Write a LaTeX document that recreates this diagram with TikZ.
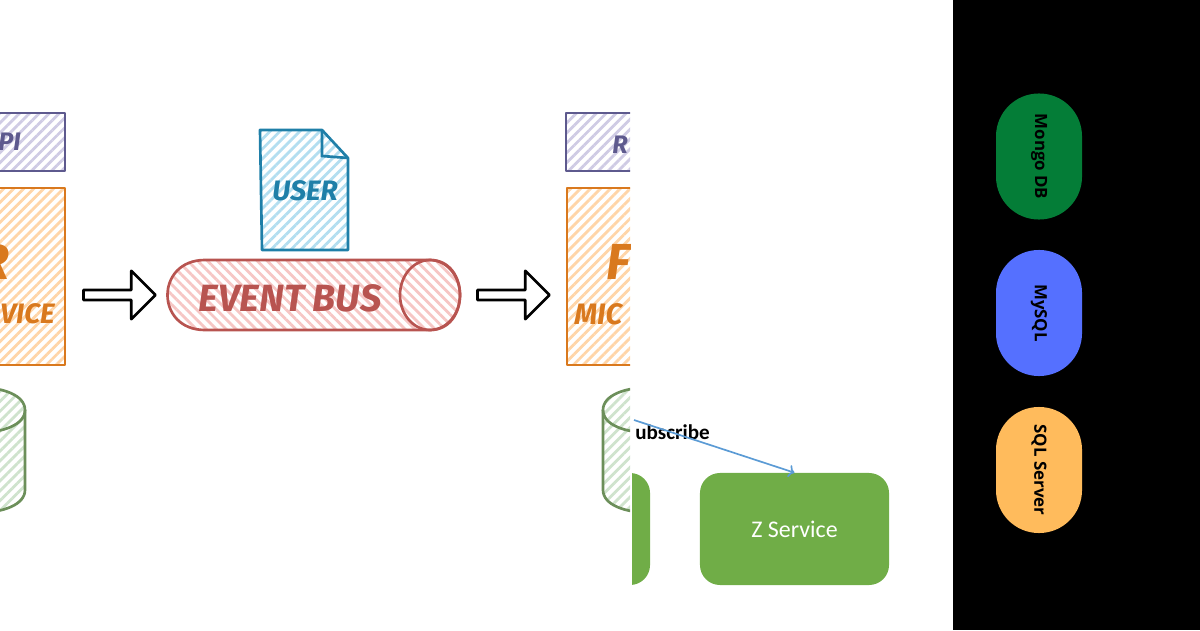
\documentclass[tikz,border=0pt]{standalone}
\usepackage{fontspec}
\setmainfont{Carlito}
\newfontfamily\sketchfont{Fira Sans}
\newfontfamily\pillfont{Open Sans}
\usetikzlibrary{patterns.meta,shapes.arrows,arrows.meta}
\definecolor{apiline}{HTML}{5E5A8E}
\definecolor{apitint}{HTML}{CFCBE4}
\definecolor{svcline}{HTML}{D9791E}
\definecolor{svctint}{HTML}{FFD5A8}
\definecolor{docline}{HTML}{1F7FA8}
\definecolor{doctint}{HTML}{B3DEF0}
\definecolor{busline}{HTML}{B85450}
\definecolor{bustint}{HTML}{F6C6C4}
\definecolor{dbline}{HTML}{6C8F5A}
\definecolor{dbtint}{HTML}{CFE3CD}
\definecolor{zgreen}{HTML}{70AD47}
\definecolor{zarrow}{HTML}{5B9BD5}
\definecolor{mongogreen}{HTML}{047D37}
\definecolor{mysqlblue}{HTML}{5570FF}
\definecolor{sqlorange}{HTML}{FFBB5C}
\begin{document}
\begin{tikzpicture}[
		x=0.025cm, y=-0.025cm,
		hatched/.style={line width=1.9pt, line join=round, draw=#1line, pattern={Lines[angle=45,distance=5pt,line width=2pt]}, pattern color=#1tint},
		backhatched/.style={line width=1.9pt, line join=round, draw=#1line, pattern={Lines[angle=135,distance=5pt,line width=2pt]}, pattern color=#1tint},
		sketch/.style={font=\sketchfont\bfseries\itshape, text=#1line, inner sep=0pt},
		blockarrow/.style={single arrow, draw=black, fill=white, line width=1.9pt, line join=round, inner sep=2.6pt, minimum height=1.8cm, minimum width=1.2cm, single arrow head extend=0.48cm},
		greenbox/.style={fill=zgreen, rounded corners=0.5cm, minimum width=4.725cm, minimum height=2.8cm, text=white, font=\fontsize{17}{20}\selectfont},
		pill/.style={rounded corners=1.07cm, minimum width=3.15cm, minimum height=2.15cm, rotate=-90, text=black, font=\pillfont\bfseries\fontsize{12}{14}\selectfont}
		]
	\useasboundingbox (0,0) rectangle (1200,630);
	\fill[black] (953,0) rectangle (1200,630);
	
	% left part, cut at the edge of the panel
	\begin{scope}
		\clip (0,0) rectangle (630,630);
		\draw[hatched=api] (-60,113) rectangle (65,171);
		\draw[hatched=svc] (-60,188) rectangle (65,365);
		\draw[hatched=db] (-65,410) .. controls (-65,380) and (25,380) .. (25,410) -- (25,490) .. controls (25,520) and (-65,520) .. (-65,490) -- cycle;
		\draw[line width=1.9pt, dbline] (-65,410) .. controls (-65,440) and (25,440) .. (25,410);
		\node[sketch=api, anchor=east, font=\sketchfont\bfseries\itshape\fontsize{18}{20}\selectfont] (A1) at (21,142) {PI};
		\node[sketch=svc, anchor=east, font=\sketchfont\bfseries\itshape\fontsize{36}{38}\selectfont] (R1) at (10,262) {R};
		\node[sketch=svc, anchor=east, font=\sketchfont\bfseries\itshape\fontsize{20}{22}\selectfont] (R2) at (55,314) {VICE};
		
		\draw[hatched=api] (566,113) rectangle (700,171);
		\draw[hatched=svc] (567,188) rectangle (700,365);
		\draw[hatched=db] (603,410) .. controls (603,380) and (693,380) .. (693,410) -- (693,490) .. controls (693,520) and (603,520) .. (603,490) -- cycle;
		\draw[line width=1.9pt, dbline] (603,410) .. controls (603,440) and (693,440) .. (693,410);
		\node[sketch=api, anchor=west, font=\sketchfont\bfseries\itshape\fontsize{18}{20}\selectfont] (A2) at (612,145) {R};
		\node[sketch=svc, anchor=west, font=\sketchfont\bfseries\itshape\fontsize{36}{38}\selectfont] (F1) at (606,262) {F};
		\node[sketch=svc, anchor=west, font=\sketchfont\bfseries\itshape\fontsize{21}{23}\selectfont] (F2) at (574,314) {MIC};
		
		% event on the bus
		\draw[hatched=doc] (260,130) -- (322,130) -- (348,158) -- (348,250) -- (262,250) -- cycle;
		\draw[line width=1.9pt, docline] (322,130) -- (322,156) -- (348,158);
		\node[sketch=doc, font=\sketchfont\bfseries\itshape\fontsize{20}{22}\selectfont] (U1) at (305,191) {USER};
		\draw[backhatched=bus] (205,260) -- (430,260) .. controls (470,260) and (470,330) .. (430,330) -- (205,330) .. controls (155,330) and (155,260) .. (205,260) -- cycle;
		\draw[line width=1.9pt, busline] (430,295) ellipse [x radius=30, y radius=35];
		\node[sketch=bus, font=\sketchfont\bfseries\itshape\fontsize{27}{29}\selectfont] (B1) at (290,298) {EVENT BUS};
		\node[blockarrow] (W1) at (117,295) {};
		\node[blockarrow] (W2) at (511,295) {};
	\end{scope}
	
	% right part
	\begin{scope}
		\clip (632,0) rectangle (700,630);
		\node[greenbox] (Y1) at (555.5,529) {};
	\end{scope}
	\node[greenbox] (Z1) at (794.5,529) {Z Service};
	\coordinate (S0) at (634,420);
	\node[inner sep=0pt, anchor=west, font=\bfseries\fontsize{15}{17}\selectfont] (L1) at (635,432) {ubscribe};
	\draw[->, line width=1.2pt, zarrow] (S0) -- (Z1.north);
	
	% stores
	\node[pill, fill=mongogreen] (M1) at (1039,156.5) {Mongo DB};
	\node[pill, fill=mysqlblue] (M2) at (1039,313) {MySQL};
	\node[pill, fill=sqlorange] (M3) at (1039,470) {SQL Server};
\end{tikzpicture}
\end{document}
